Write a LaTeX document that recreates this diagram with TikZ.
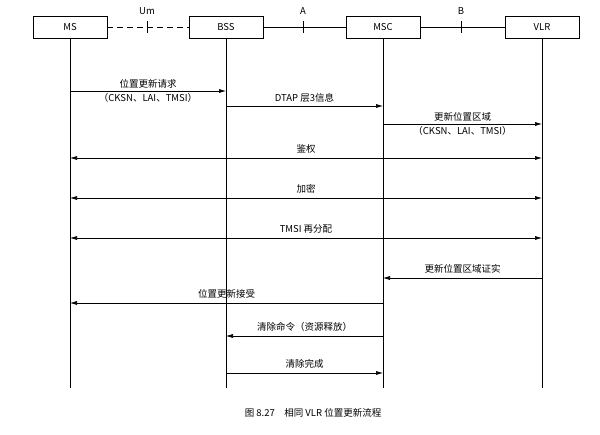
\documentclass[tikz,border=0pt]{standalone}
\usepackage{fontspec}
\setmainfont{Noto Sans CJK SC}
\usetikzlibrary{arrows.meta}
\begin{document}
\begin{tikzpicture}[x=1pt,y=-1pt,
  ent/.style={draw,minimum width=74pt,minimum height=22pt,inner sep=0pt,font=\fontsize{9.5}{10}\selectfont},
  lbl/.style={font=\fontsize{9.5}{10}\selectfont,inner sep=1pt},
  msg/.style={-{Latex[length=7pt,width=4pt]},line width=0.6pt},
  bmsg/.style={{Latex[length=7pt,width=4pt]}-{Latex[length=7pt,width=4pt]},line width=0.6pt}]
\useasboundingbox (0,0) rectangle (600,434);
\node[ent] (ms) at (70,27) {MS};
\node[ent] (bss) at (226,27) {BSS};
\node[ent] (msc) at (383,27) {MSC};
\node[ent] (vlr) at (542,27) {VLR};
\draw[dashed,dash pattern=on 6pt off 4pt] (ms) -- (bss);
\draw (bss) -- (msc);
\draw (msc) -- (vlr);
\draw (147,21) -- (147,33); \node[lbl] (um) at (147,11) {Um};
\draw (303,21) -- (303,33); \node[lbl] (a) at (303,11) {A};
\draw (461,21) -- (461,33); \node[lbl] (b) at (461,11) {B};
\foreach \n/\x in {ms/70,bss/226,msc/383,vlr/542}{
  \coordinate (\n e) at (\x,388);
  \draw (\n.south) -- (\n e);
}
\foreach \y in {91,106,124,158,198,238,278,303,336,373}{
  \coordinate (ms\y) at (70,\y); \coordinate (bss\y) at (226,\y);
  \coordinate (msc\y) at (383,\y); \coordinate (vlr\y) at (542,\y);
}
\draw[msg] (ms91) -- node[lbl,above=1pt]{位置更新请求} node[lbl,below=1pt]{（CKSN、LAI、TMSI）} (bss91);
\draw[msg] (bss106) -- node[lbl,above=2pt]{DTAP 层3信息} (msc106);
\draw[msg] (msc124) -- node[lbl,above=1pt]{更新位置区域} node[lbl,below=1pt]{（CKSN、LAI、TMSI）} (vlr124);
\draw[bmsg] (ms158) -- node[lbl,above=3pt]{鉴权} (vlr158);
\draw[bmsg] (ms198) -- node[lbl,above=3pt]{加密} (vlr198);
\draw[bmsg] (ms238) -- node[lbl,above=3pt]{TMSI 再分配} (vlr238);
\draw[msg] (vlr278) -- node[lbl,above=3pt]{更新位置区域证实} (msc278);
\draw[msg] (msc303) -- node[lbl,above=3pt]{位置更新接受} (ms303);
\draw[msg] (msc336) -- node[lbl,above=3pt]{清除命令（资源释放）} (bss336);
\draw[msg] (bss373) -- node[lbl,above=3pt]{清除完成} (msc373);
\node[lbl] (cap) at (313,413) {图 8.27\quad 相同 VLR 位置更新流程};
\end{tikzpicture}
\end{document}
